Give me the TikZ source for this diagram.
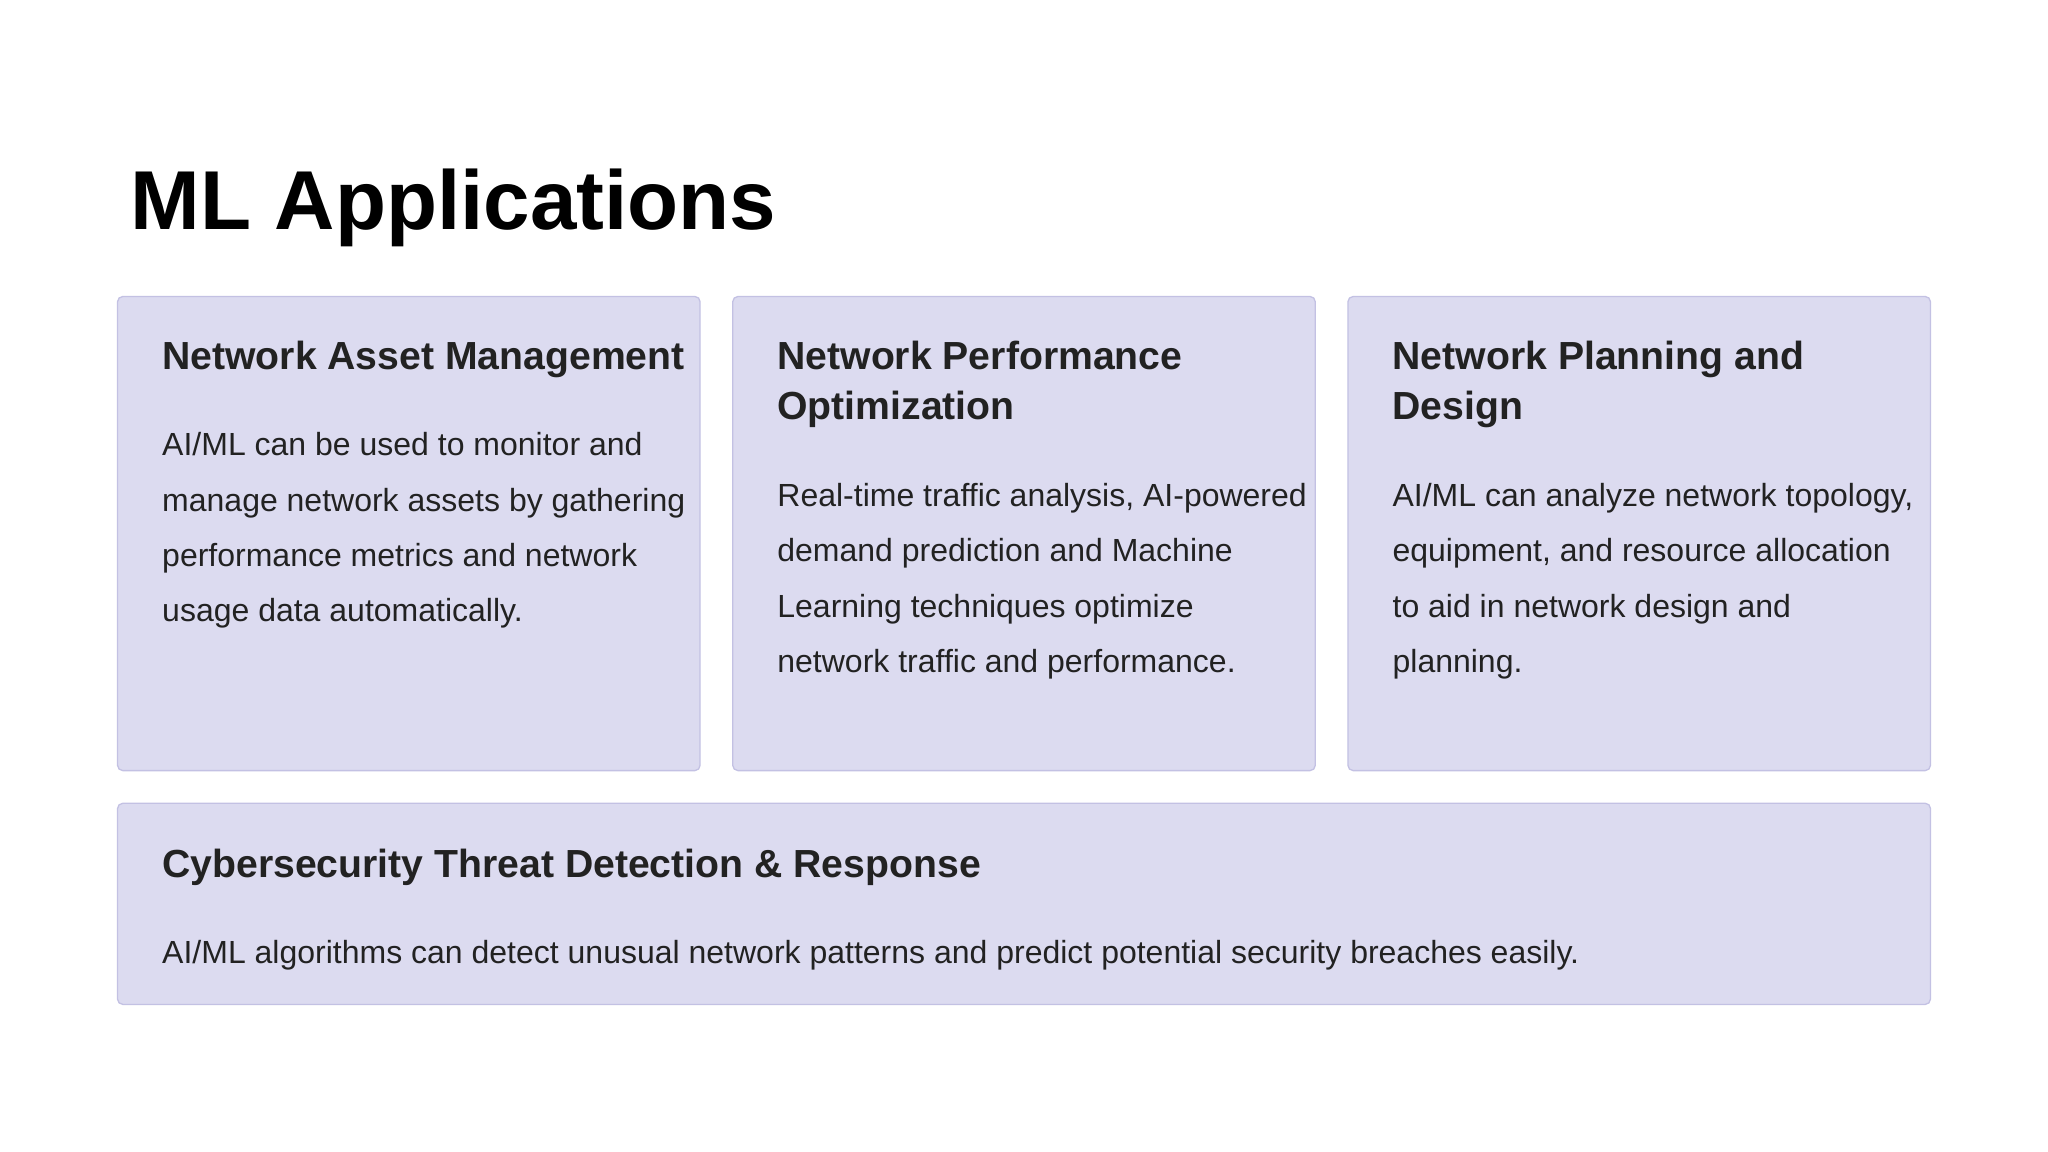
\documentclass[tikz,border=0pt]{standalone}
\usepackage{fontspec}
\setmainfont{Liberation Sans}
\definecolor{cardfill}{HTML}{DCDBF0}
\definecolor{cardline}{HTML}{C3C1E3}
\definecolor{txt}{HTML}{222222}
\tikzset{
 card/.style={draw=cardline, fill=cardfill, rounded corners=4pt, line width=1pt},
 head/.style={anchor=north west, inner sep=0pt, align=left, text=txt, font=\fontsize{30}{38}\selectfont\bfseries},
 body/.style={anchor=north west, inner sep=0pt, align=left, text=txt, font=\fontsize{24.5}{42.3}\selectfont},
}
\begin{document}
\begin{tikzpicture}[x=1pt,y=-1pt]
\useasboundingbox (0,0) rectangle (1568,882);
\node[anchor=north west, inner sep=0pt, font=\fontsize{64}{70}\selectfont\bfseries] (title) at (100,129) {ML Applications};
\draw[card] (90,227) rectangle (536,590);
\draw[card] (561,227) rectangle (1007,590);
\draw[card] (1032,227) rectangle (1478,590);
\draw[card] (90,615) rectangle (1478,769);
\node[head] (h1) at (124,261) {Network Asset Management};
\node[body] (b1) at (124,331) {AI/ML can be used to monitor and\\manage network assets by gathering\\performance metrics and network\\usage data automatically.};
\node[head] (h2) at (595,261) {Network Performance\\Optimization};
\node[body] (b2) at (595,370) {Real-time traffic analysis, AI-powered\\demand prediction and Machine\\Learning techniques optimize\\network traffic and performance.};
\node[head] (h3) at (1066,261) {Network Planning and\\Design};
\node[body] (b3) at (1066,370) {AI/ML can analyze network topology,\\equipment, and resource allocation\\to aid in network design and\\planning.};
\node[head] (h4) at (124,650) {Cybersecurity Threat Detection \& Response};
\node[body] (b4) at (124,720) {AI/ML algorithms can detect unusual network patterns and predict potential security breaches easily.};
\end{tikzpicture}
\end{document}
